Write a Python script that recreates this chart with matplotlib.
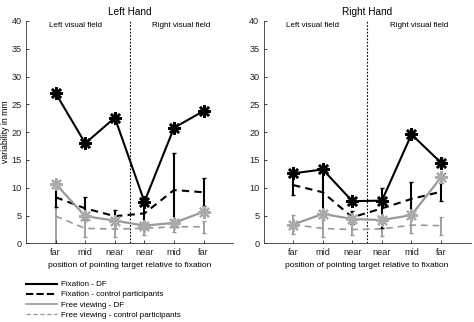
import numpy as np
import matplotlib.pyplot as plt
from matplotlib.lines import Line2D

plt.rcParams['font.family'] = ['Liberation Sans', 'DejaVu Sans']

positions = ['far', 'mid', 'near', 'near', 'mid', 'far']
x = np.arange(1, 7)

# left hand
lh_fix_df = [27.0, 18.0, 22.6, 7.5, 20.8, 23.8]
lh_fix_ctrl = [8.3, 6.3, 4.9, 5.4, 9.6, 9.2]
lh_fix_ctrl_err = [1.8, 2.0, 1.1, 2.2, 6.6, 2.5]
lh_free_df = [10.7, 4.9, 4.1, 3.2, 3.7, 5.7]
lh_free_ctrl = [4.9, 2.7, 2.6, 2.7, 3.0, 3.0]
lh_free_ctrl_err = [4.9, 1.5, 1.4, 1.2, 0.9, 1.1]

# right hand
rh_fix_df = [12.6, 13.3, 7.6, 7.7, 19.6, 14.5]
rh_fix_ctrl = [10.5, 9.2, 4.7, 6.3, 8.0, 9.3]
rh_fix_ctrl_err = [1.8, 4.0, 1.2, 3.6, 3.1, 1.6]
rh_free_df = [3.4, 5.3, 4.4, 4.2, 5.1, 11.9]
rh_free_ctrl = [3.4, 2.7, 2.5, 2.6, 3.3, 3.2]
rh_free_ctrl_err = [1.7, 1.5, 1.0, 1.3, 1.5, 1.6]

GRAY = '#999999'
STAR = (8, 2, 0)

fig = plt.figure(figsize=(4.74, 3.22), dpi=100)
ax1 = fig.add_axes([0.055, 0.244, 0.437, 0.691])
ax2 = fig.add_axes([0.556, 0.244, 0.437, 0.691])


def panel(ax, title, fix_df, fix_ctrl, fix_err, free_df, free_ctrl, free_err):
    ax.errorbar(x, free_ctrl, yerr=free_err, fmt='none', ecolor=GRAY,
                elinewidth=1.3, capsize=1.5, capthick=1.0, zorder=1)
    ax.plot(x, free_ctrl, color=GRAY, ls=(0, (4, 3)), lw=1.2, zorder=2)
    ax.errorbar(x, fix_ctrl, yerr=fix_err, fmt='none', ecolor='black',
                elinewidth=1.5, capsize=1.5, capthick=1.0, zorder=3)
    ax.plot(x, fix_ctrl, color='black', ls=(0, (3.5, 2.5)), lw=1.5, zorder=4)
    ax.plot(x, free_df, color=GRAY, lw=1.6, marker=STAR, ms=9,
            mew=1.6, mec='#aaaaaa', zorder=5)
    ax.plot(x, fix_df, color='black', lw=1.5, marker=STAR, ms=9,
            mew=1.8, zorder=6)
    ax.axvline(3.5, color='black', ls=(0, (1.5, 1.5)), lw=0.8, zorder=0)

    ax.set_xlim(0, 7)
    ax.set_ylim(0, 40)
    ax.set_xticks(x)
    ax.set_xticklabels(positions)
    ax.set_yticks(np.arange(0, 41, 5))
    ax.tick_params(direction='in', length=2, width=0.6, labelsize=6.6,
                   colors='#222222', pad=3)
    for s in ['top', 'right']:
        ax.spines[s].set_visible(False)
    for s in ['left', 'bottom']:
        ax.spines[s].set_linewidth(0.6)
        ax.spines[s].set_color('#333333')
    ax.set_title(title, fontsize=7.2, pad=4)
    ax.text(1.67, 39.2, 'Left visual field', ha='center', va='center', fontsize=5.8)
    ax.text(5.25, 39.2, 'Right visual field', ha='center', va='center', fontsize=5.8)
    ax.set_xlabel('position of pointing target relative to fixation', fontsize=6.0,
                  labelpad=4)


panel(ax1, 'Left Hand', lh_fix_df, lh_fix_ctrl, lh_fix_ctrl_err,
      lh_free_df, lh_free_ctrl, lh_free_ctrl_err)
panel(ax2, 'Right Hand', rh_fix_df, rh_fix_ctrl, rh_fix_ctrl_err,
      rh_free_df, rh_free_ctrl, rh_free_ctrl_err)
ax1.set_ylabel('variability in mm', fontsize=6.2, labelpad=1)

handles = [
    Line2D([], [], color='black', lw=1.5),
    Line2D([], [], color='black', lw=1.5, ls=(0, (3.5, 1.5))),
    Line2D([], [], color=GRAY, lw=1.2),
    Line2D([], [], color=GRAY, lw=1.0, ls=(0, (3, 2))),
]
labels = ['Fixation - DF', 'Fixation - control participants',
          'Free viewing - DF', 'Free viewing - control participants']
fig.legend(handles, labels, loc='upper left', bbox_to_anchor=(0.055, 0.128),
           frameon=False, fontsize=5.8, handlelength=3.8, handletextpad=0.5,
           labelspacing=0.3, borderpad=0, borderaxespad=0)

fig.savefig('out.png', dpi=100)
